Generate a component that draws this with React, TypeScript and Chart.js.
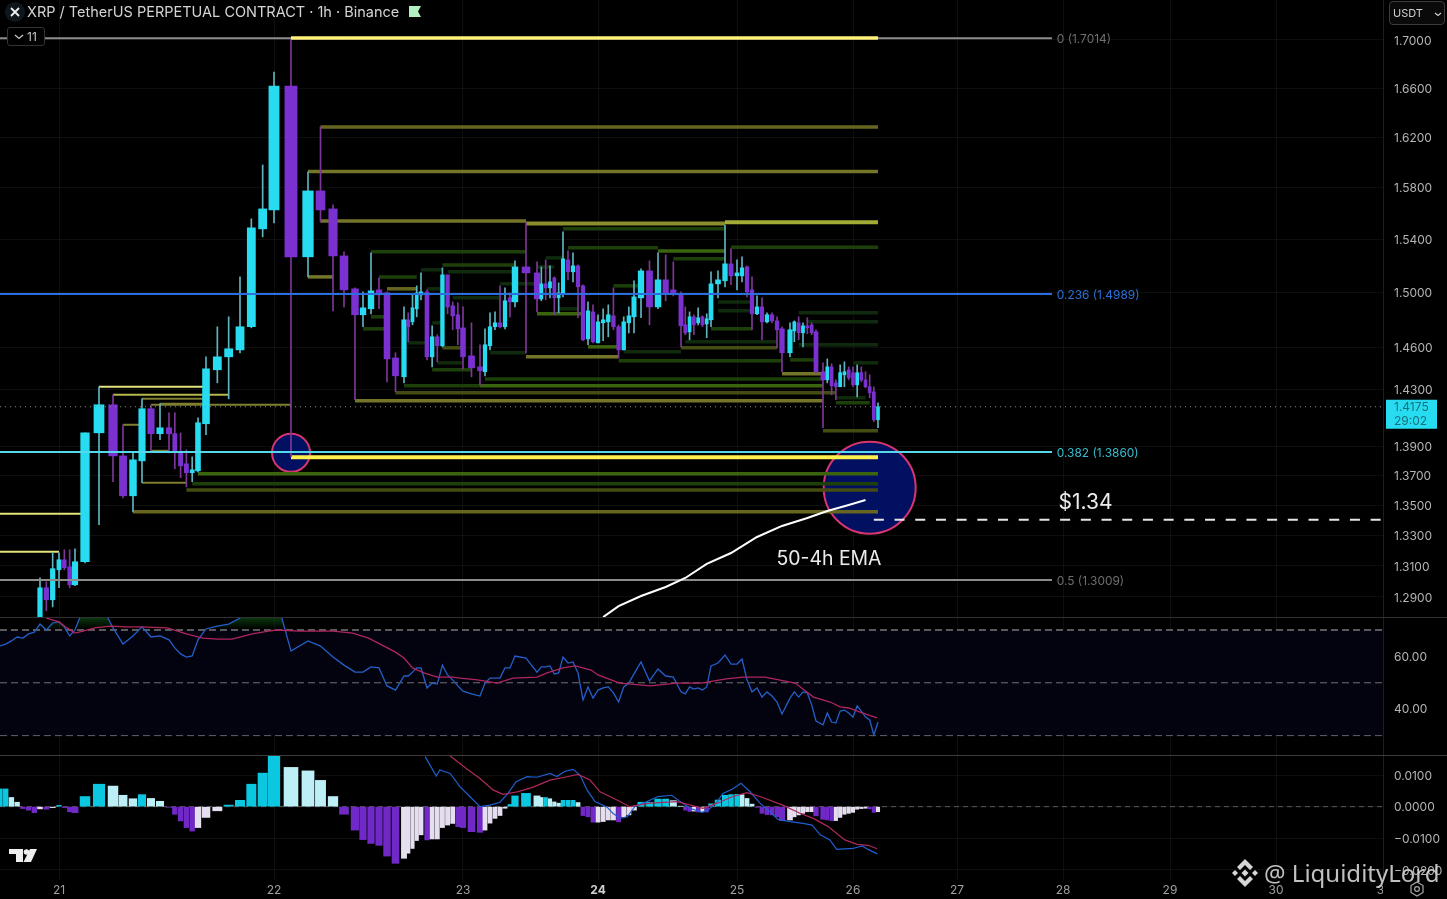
import React, { useEffect, useRef } from "react";
import { Chart, registerables, LinearScale, BarController } from "chart.js";

// ---------- hours are counted from 21 00:00 ----------
const dayTickHours = [0, 24, 48, 72, 96, 120, 144, 168, 192, 216, 240];
const dayTickLabels = ["21", "22", "23", "24", "25", "26", "27", "28", "29", "30", "31"];
const priceTicks = [1.7, 1.66, 1.62, 1.58, 1.54, 1.5, 1.46, 1.43, 1.39, 1.37, 1.35, 1.33, 1.31, 1.29];
const rsiTicks = [60, 40];
const macdTicks = [0.01, 0, -0.01, -0.02];

// the screenshot's time axis is unevenly stretched: hour -> share of the axis (out of 1383)
const xKnotHours = [-10, -3, 0, 3, 4, 5, 6, 8, 12, 17, 18, 24, 25, 26, 28, 30, 34, 36, 40, 41, 48, 50, 57, 58, 59, 65, 72, 79, 80, 82, 85, 92, 94, 96, 105, 106, 112, 113, 120, 126, 144, 168, 192, 216, 240];
const xKnotShares = [0, 40, 59, 75, 85, 99, 113, 133, 169, 198, 206, 274, 291, 308, 333, 355, 387, 404, 421, 427, 463, 480, 515, 526, 537, 563, 598, 634, 641, 658, 681, 711, 725, 737, 782, 790, 816, 823, 853, 878, 957, 1063, 1170, 1276, 1383];

// ---------- candles, first one at hour -3 ----------
const candleFirstHour = -3;
const opens = [1.2755,1.2959,1.2882,1.3075,1.3140,1.3094,1.2978,1.3127,1.3993,1.4189,1.3834,1.3563,1.3800,1.4161,1.3987,1.4028,1.3987,1.3862,1.3780,1.3719,1.3732,1.4056,1.4437,1.4530,1.4580,1.4748,1.5481,1.5627,1.6617,1.5268,1.5775,1.5635,1.5275,1.5028,1.4836,1.4880,1.5020,1.4998,1.4522,1.4387,1.4799,1.4784,1.4880,1.4983,1.5005,1.4530,1.4675,1.4610,1.5132,1.4902,1.4836,1.4740,1.4537,1.4458,1.4423,1.4610,1.4748,1.4777,1.4748,1.4961,1.4931,1.5192,1.5147,1.4953,1.5065,1.5035,1.5110,1.4961,1.4998,1.5245,1.5155,1.5200,1.5050,1.4660,1.4857,1.4631,1.4777,1.4784,1.4828,1.4748,1.4580,1.4777,1.4821,1.4961,1.5162,1.4894,1.5095,1.5020,1.4990,1.4762,1.4711,1.4821,1.4777,1.4821,1.4769,1.4799,1.5065,1.5088,1.5215,1.5125,1.5125,1.5192,1.5020,1.4843,1.4894,1.4784,1.4836,1.4791,1.4733,1.4559,1.4718,1.4777,1.4704,1.4755,1.4762,1.4711,1.4423,1.4365,1.4458,1.4344,1.4316,1.4401,1.4437,1.4416,1.4330,1.4416,1.4365,1.4316,1.4280,1.4084];
const highs = [1.3023,1.2997,1.3186,1.3186,1.3205,1.3205,1.3212,1.3993,1.4316,1.4259,1.4049,1.3862,1.4231,1.4189,1.4196,1.4133,1.4133,1.3993,1.3876,1.3827,1.4098,1.4530,1.4748,1.4821,1.5117,1.5558,1.5979,1.6731,1.7014,1.5924,1.6283,1.5666,1.5306,1.5035,1.5005,1.5298,1.5110,1.5005,1.4559,1.4894,1.4850,1.4983,1.5050,1.5147,1.5020,1.4755,1.4690,1.5185,1.5132,1.4931,1.4924,1.4894,1.4777,1.4617,1.4733,1.4850,1.4857,1.5050,1.5035,1.4998,1.5238,1.5527,1.5230,1.5192,1.5245,1.5200,1.5117,1.5073,1.5458,1.5313,1.5298,1.5207,1.5058,1.4931,1.4909,1.4836,1.4880,1.4909,1.5035,1.4762,1.4821,1.4894,1.5088,1.5177,1.5238,1.5298,1.5283,1.5230,1.5005,1.4894,1.4857,1.4836,1.4887,1.4828,1.4843,1.5155,1.5162,1.5511,1.5329,1.5245,1.5268,1.5200,1.5117,1.4975,1.4961,1.4850,1.4850,1.4821,1.4748,1.4777,1.4791,1.4821,1.4777,1.4814,1.4777,1.4726,1.4487,1.4515,1.4480,1.4365,1.4473,1.4494,1.4458,1.4458,1.4473,1.4458,1.4423,1.4401,1.4316,1.4203];
const lows = [1.2742,1.2812,1.2837,1.2959,1.3075,1.2959,1.2972,1.3120,1.3370,1.3658,1.3549,1.3456,1.3651,1.3869,1.3945,1.3855,1.3746,1.3685,1.3624,1.3658,1.3725,1.3980,1.4344,1.4231,1.4559,1.4740,1.5420,1.5527,1.3828,1.5117,1.5535,1.4865,1.4894,1.4224,1.4748,1.4843,1.4880,1.4351,1.4280,1.4344,1.4639,1.4762,1.4821,1.4946,1.4508,1.4458,1.4494,1.4602,1.4843,1.4726,1.4617,1.4444,1.4387,1.4330,1.4394,1.4580,1.4726,1.4740,1.4733,1.4821,1.4894,1.4559,1.4857,1.4939,1.4946,1.4961,1.4836,1.4850,1.4968,1.5095,1.5080,1.4814,1.4646,1.4617,1.4631,1.4631,1.4646,1.4675,1.4726,1.4522,1.4580,1.4704,1.4704,1.4814,1.4762,1.4880,1.4939,1.4975,1.4602,1.4690,1.4653,1.4690,1.4762,1.4748,1.4668,1.4748,1.4961,1.5043,1.5058,1.5020,1.5080,1.4968,1.4726,1.4836,1.4653,1.4777,1.4777,1.4595,1.4423,1.4530,1.4639,1.4653,1.4602,1.4697,1.4690,1.4416,1.4028,1.4344,1.4259,1.4224,1.4316,1.4316,1.4365,1.4316,1.4245,1.4351,1.4309,1.4238,1.4070,1.4028];
const closes = [1.2959,1.2882,1.3082,1.3140,1.3088,1.2978,1.3127,1.3993,1.4189,1.3834,1.3563,1.3807,1.4161,1.3987,1.4028,1.3987,1.3855,1.3766,1.3719,1.3739,1.4063,1.4444,1.4530,1.4588,1.4748,1.5489,1.5635,1.6617,1.5268,1.5775,1.5627,1.5275,1.5020,1.4836,1.4887,1.5013,1.4983,1.4515,1.4394,1.4799,1.4748,1.4887,1.4998,1.5005,1.4530,1.4675,1.4610,1.5132,1.4894,1.4828,1.4733,1.4530,1.4451,1.4430,1.4617,1.4748,1.4777,1.4748,1.4939,1.4931,1.5192,1.5147,1.4953,1.5065,1.5035,1.5080,1.4961,1.4998,1.5253,1.5155,1.5200,1.5043,1.4653,1.4865,1.4639,1.4784,1.4799,1.4836,1.4748,1.4580,1.4784,1.4828,1.4968,1.5162,1.4894,1.5095,1.4990,1.4998,1.4755,1.4704,1.4821,1.4762,1.4814,1.4762,1.4806,1.5065,1.5095,1.5215,1.5125,1.5147,1.5185,1.5005,1.4843,1.4894,1.4784,1.4836,1.4791,1.4726,1.4559,1.4726,1.4784,1.4704,1.4755,1.4740,1.4704,1.4423,1.4365,1.4458,1.4323,1.4316,1.4416,1.4423,1.4380,1.4330,1.4416,1.4365,1.4316,1.4273,1.4084,1.4175];

// ---------- Fibonacci levels ----------
const fibPrices = [1.7014, 1.4989, 1.386, 1.3009];
const fibLabels = ["0 (1.7014)", "0.236 (1.4989)", "0.382 (1.3860)", "0.5 (1.3009)"];
const fibFirstHour = -10;
const fibLastHour = 165.5;

// ---------- horizontal liquidity levels ----------
const levelPrices = [1.7017,1.6283,1.5928,1.5542,1.5523,1.5531,1.5481,1.5306,1.5336,1.5313,1.5340,1.5253,1.5117,1.5117,1.5028,1.5207,1.5155,1.5170,1.5028,1.4961,1.5065,1.5260,1.5192,1.5050,1.4843,1.4880,1.4821,1.4733,1.4777,1.4631,1.4595,1.4487,1.4437,1.4559,1.4530,1.4501,1.4602,1.4567,1.4372,1.4323,1.4323,1.4273,1.4217,1.4409,1.4007,1.4733,1.4595,1.4639,1.4865,1.4931,1.4850,1.4784,1.4617,1.4508,1.4487,1.4238,1.4203,1.4316,1.4259,1.4231,1.4196,1.4189,1.4049,1.3869,1.3651,1.3456,1.3603,1.3644,1.3712,1.3824,1.3443,1.3192];
const levelStarts = [25,27,26,27,58,94,65,32,66,82,95,84,26,33,34,44,45,40,41,46,54,61,59,75,59,64,32,31,42,37,44,43,42,52,58,76,70,77,51,36,50,35,30,105,113,92,85,86,93,93,108,110,108,106,120,116,116,5,6,9,11,10,7,10,9,8,15,16,17,25,-10,-10];
const levelEnds = [126,126,126,58,94,126,94,58,82,94,126,94,28,39,39,57,57,44,44,54,59,65,63,80,69,68,34,34,44,41,48,48,49,58,76,105,76,85,113,50,113,116,113,113,126,99,104,104,99,99,126,126,126,112,126,123,124,18,20,18,18,25,9,12,15,126,126,126,126,126,4,0];
const levelKinds = ["top","dim","olive","olive","lime2","lime","dark","dark","dark","green","dark","dark","olive","dark","dim","dark","deep","deep","deep","deep","deep","deep","deep","dark","green","deep","dark","dark","deep","deep","dim2","deep","dark","deep","olive","dark","green","deep","dark","dark","green","dim2","olive","olive","dim2","dark","dim2","deep","deep","deep","deep","deep","deep","dark","deep","deep","dark","pale","pale2","thin","thin","thin","thin","thin","thin","dim","dim2","dark","green","bright","pale","pale"];

// ---------- 50-4h EMA ----------
const emaHours = [73, 76, 80, 83, 86, 91, 95, 100, 105, 110, 114, 119, 123];
const emaValues = [1.2772, 1.2842, 1.2906, 1.2964, 1.3022, 1.3113, 1.3184, 1.3289, 1.3362, 1.3415, 1.3461, 1.3501, 1.3535];

const lastPrice = 1.4175;
const countdown = "29:02";
const targetPrice = 1.3403;
const targetHours = [125, 239.5];

// ---------- RSI, first value at hour -10 ----------
const oscFirstHour = -10;
const rsiValues = [63.85,64.6,65.8,67.3,66.9,68.5,69.2,72.3,70,72.7,73.1,71.2,67.7,70,80,81.5,70.8,64.6,67.7,71.2,67.3,67.7,66.2,63.1,60.8,59.6,60,66.2,70.4,71.5,72.3,74.6,80,81.5,85.4,61.9,65.8,63.8,59.6,56.5,53.8,53.8,55.8,55.4,48.5,46.9,52.3,52.3,53.8,55.4,55.4,47.7,49.6,49.2,56.5,52.7,50.8,48.5,46.5,45.4,44.6,49.6,51.5,51.5,51.5,55.4,55.4,60,59.2,53.8,55.8,55.8,56.2,53.1,53.5,59.6,57.3,57.7,53.5,43.1,48.1,43.8,46.9,47.7,48.1,45.8,42.3,48.1,49.6,53.1,57.7,50.4,55,52.3,51.9,46.2,45.4,48.1,47.3,47.7,46.9,48.1,56.2,57.3,60.4,56.9,56.9,58.8,50.8,46.2,47.7,44.2,46.2,44.6,42.3,37.7,43.8,46.2,44.2,46.2,45.8,41.2,35,33.5,38.1,34.6,34.2,38.8,39.2,38.1,36.5,40.8,38.8,36.5,35.4,29.6,34.6];
const rsiMaHours = [-2,0,1.5,3,3.8,4.7,5.8,7.4,9,11.8,15,17.6,19,20.3,22.1,23.5,24.2,25.5,28,29.8,31.7,35,36,38,40.5,43,46,47.5,49.7,53.4,56.6,59,61.3,65,67.5,70.6,72,76.2,81.1,84.4,89.7,94.2,97.2,101.6,107.2,111.4,114.7,117,119,122.2,125.8];
const rsiMaValues = [74.6,73.1,70.8,68.8,69.6,70.8,71.5,71.2,71.2,70.8,68.5,66.9,66.5,66.5,68.5,69.6,70,69.6,69.6,68.8,66.9,61.5,59.2,55.4,53.5,51.9,51.9,51.5,50.8,49.6,51.5,51.9,53.5,55.4,56.2,54.6,52.7,49.6,48.5,49.6,49.6,51.2,51.9,51.9,49.6,44.2,42.3,40.4,40,38.1,36.2];
const rsiBands = [70, 49.7, 29.4];

// ---------- MACD, first value at hour -10 ----------
const macdHist = [0.0056,0.0056,0.0029,0.0014,-0.0006,-0.0011,-0.0019,-0.0007,-0.0008,-0.0003,0.0004,-0.0003,-0.0016,-0.0019,0.0032,0.0071,0.0065,0.0036,0.0025,0.0038,0.0026,0.0017,-0.0002,-0.0024,-0.0045,-0.0066,-0.0077,-0.0066,-0.0034,-0.0013,0.0005,0.002,0.0071,0.0106,0.016,0.0124,0.0113,0.0083,0.0032,-0.0024,-0.0074,-0.0104,-0.0116,-0.0122,-0.0156,-0.0179,-0.0163,-0.0147,-0.0132,-0.0107,-0.0089,-0.0105,-0.0102,-0.0102,-0.0066,-0.0058,-0.0053,-0.0063,-0.0066,-0.0079,-0.0081,-0.0074,-0.0052,-0.0037,-0.0028,-0.0005,0.0007,0.0034,0.0042,0.0034,0.0029,0.0029,0.0025,0.0015,0.0011,0.002,0.002,0.002,0.0013,-0.0028,-0.0032,-0.0049,-0.0049,-0.0047,-0.0042,-0.0042,-0.0048,-0.0032,-0.0026,-0.0011,0.0014,0.0014,0.0024,0.0024,0.0019,0.0001,-0.0011,-0.0015,-0.0014,-0.0017,-0.0016,-0.0017,0.0009,0.0021,0.0036,0.0038,0.0039,0.0038,0.0026,0.0008,-0.0002,-0.0021,-0.0025,-0.0026,-0.0032,-0.0044,-0.0042,-0.0032,-0.0026,-0.0021,-0.0016,-0.0016,-0.0029,-0.004,-0.0042,-0.0044,-0.0044,-0.0034,-0.0024,-0.0021,-0.0018,-0.0008,-0.0006,-0.0005,-0.0007,-0.0018,-0.0016];
const macdHours = [40.7,42.8,43.5,45.5,47.4,48.8,50,52,54,55.6,57.1,58.1,59,62,63.6,65.3,67,68.4,69.8,71.4,73.8,74.9,76.3,77.7,79.1,80.7,82,83.8,84.9,87.1,89.9,91.3,92.9,93.7,95.2,96.8,98.6,100.6,102.6,104.2,106,109,111.1,112.6,114.6,116.2,120,122.2,123.6,125.8];
const macdValues = [0.0158,0.0097,0.0116,0.0105,0.0063,0.0032,0,0.0005,0.0014,0.0042,0.0079,0.0095,0.0093,0.0105,0.0095,0.0111,0.0118,0.01,0.0053,0.0016,-0.0002,-0.0021,-0.0037,-0.0032,0,0.0016,0.0032,0.0036,0.0016,-0.0005,-0.0018,-0.0011,0.0016,0.0042,0.0055,0.0074,0.0047,0.0011,-0.0016,-0.004,-0.0047,-0.0053,-0.0058,-0.0089,-0.0105,-0.0135,-0.0132,-0.0124,-0.0135,-0.0149];
const signalHours = [45.5,48.5,50,52.6,54.6,57.2,58.6,62,65.3,68,70.4,72.4,75.7,78.2,81,84.5,90.1,92.9,95.3,98,100.6,105.1,108.3,111.4,114.2,118.1,121,123.6,125.8];
const signalValues = [0.016,0.0118,0.0089,0.0053,0.0039,0.0047,0.0061,0.0084,0.0093,0.0102,0.0084,0.0047,0.0021,0,0.0011,0.0016,-0.0005,0.0011,0.0032,0.0044,0.0032,0.0005,-0.0021,-0.0037,-0.0063,-0.0105,-0.0119,-0.0122,-0.0133];

// ---------- styles ----------
const FONT = "Inter, 'Noto Sans', sans-serif";
const AXIS_END = 1383;
const CYAN = "#27dcf0";
const PURPLE = "#7b30d0";
const GRID = "rgba(255,255,255,0.055)";
const kindStyles: Record<string, [string, number]> = {
  top: ["#fff27a", 3], bright: ["#fff04d", 4], lime: ["#a3ab35", 4], lime2: ["#8a8f2c", 4],
  pale: ["#e3e37c", 2], pale2: ["#b5b84a", 2], thin: ["#7f7f30", 2], olive: ["#75752a", 3.5],
  dim: ["#666620", 3.5], dim2: ["#444c12", 3.5], green: ["#3a640e", 3.5], dark: ["#1d400b", 3.5], deep: ["#0f2a0c", 3.5],
};

class WarpedScale extends LinearScale {
  static id = "warped";
  static defaults = {};
  getPixelForValue(value: number) {
    const h = xKnotHours, s = xKnotShares;
    let i = 0;
    while (i < h.length - 2 && value > h[i + 1]) i++;
    const share = s[i] + ((value - h[i]) / (h[i + 1] - h[i])) * (s[i + 1] - s[i]);
    return (this as any).left + (share / AXIS_END) * (this as any).width;
  }
}

// A bar whose width follows the local spacing of the uneven time axis, centred on its hour
class CandleController extends BarController {
  static id = "candle";
  _calculateBarIndexPixels(index: number, ruler: any) {
    const px = ruler.pixels;
    const center = px[index];
    const opts = (this as any).options;
    const prev = index > 0 ? center - px[index - 1] : px[index + 1] - center;
    const next = index < px.length - 1 ? px[index + 1] - center : prev;
    const size = typeof opts.barThickness === "number" ? opts.barThickness : ((prev + next) / 2) * opts.barPercentage;
    return { base: center - size / 2, head: center + size / 2, center, size };
  }
}

Chart.register(...registerables, WarpedScale as any, CandleController as any);

const clearPadding = (axis: any) => {
  axis.paddingTop = 0;
  axis.paddingBottom = 0;
  axis.paddingLeft = 0;
  axis.paddingRight = 0;
};

const xAxis = (showLabels: boolean) => ({
  type: "warped",
  position: "bottom",
  min: -10,
  max: 240,
  offset: false,
  bounds: "data",
  afterBuildTicks: (axis: any) => { axis.ticks = dayTickHours.map((value) => ({ value })); },
  afterFit: (axis: any) => { axis.height = showLabels ? 19 : 0; clearPadding(axis); },
  border: { display: false },
  grid: { color: GRID, offset: false, drawTicks: false },
  ticks: {
    display: showLabels,
    autoSkip: false,
    maxRotation: 0,
    padding: 3,
    color: (c: any) => (c.tick && c.tick.value === 72 ? "#d0d0d0" : "#a0a0a0"),
    font: (c: any) => ({ family: FONT, size: 12, weight: c.tick && c.tick.value === 72 ? "bold" : "normal" }),
    callback: (v: any) => dayTickLabels[dayTickHours.indexOf(Number(v))],
  },
});

const yAxis = (extra: any, tickValues: number[], format: (v: number) => string) => ({
  position: "right",
  bounds: "data",
  beginAtZero: false,
  afterBuildTicks: (axis: any) => { axis.ticks = tickValues.map((value) => ({ value })); },
  afterFit: (axis: any) => { axis.width = 1447 - AXIS_END; clearPadding(axis); },
  border: { display: true, color: "#1e1e1e" },
  grid: { color: GRID, drawTicks: false },
  ticks: { autoSkip: false, padding: 11, labelOffset: 1, color: "#b4b4b4", font: { family: FONT, size: 12 }, callback: (v: any) => format(Number(v)) },
  ...extra,
});

const baseOptions = (scales: any) => ({
  responsive: false,
  animation: false as const,
  events: [],
  layout: { padding: 0, autoPadding: false },
  plugins: { legend: { display: false }, tooltip: { enabled: false } },
  scales,
});

const flat = (color: string, width: number, dash?: number[]) => ({
  type: "line",
  borderColor: color,
  borderWidth: width,
  borderDash: dash || [],
  pointRadius: 0,
  borderCapStyle: "butt",
  tension: 0,
});

const at = (hourList: number[], values: number[]) => hourList.map((x, i) => ({ x, y: values[i] }));

function drawPriceNotes(chart: any) {
  const { ctx, scales } = chart;
  const x = (h: number) => scales.x.getPixelForValue(h);
  const y = (p: number) => scales.y.getPixelForValue(p);
  ctx.save();
  ctx.textBaseline = "middle";
  ctx.textAlign = "left";
  ctx.font = `11.9px ${FONT}`;
  const fibColors = ["#6e6e6e", "#2b6fd8", "#38bcd0", "#6e6e6e"];
  fibLabels.forEach((text, i) => {
    ctx.fillStyle = fibColors[i];
    ctx.fillText(text, x(fibLastHour + 1.1), y(fibPrices[i]) + 1);
  });
  ctx.fillStyle = "#ececec";
  ctx.font = `21px ${FONT}`;
  ctx.fillText("$1.34", x(167), y(1.3516));
  ctx.font = `19.4px ${FONT}`;
  ctx.fillText("50-4h EMA", x(103.9), y(1.3147));
  const top = y(lastPrice) - 7;
  ctx.fillStyle = CYAN;
  ctx.fillRect(1386, top, 51, 29);
  ctx.fillStyle = "#17707e";
  ctx.font = `12px ${FONT}`;
  ctx.fillText(lastPrice.toFixed(4), 1394, top + 8);
  ctx.fillText(countdown, 1394, top + 22);
  ctx.restore();
}

function hideAxisOverflow(chart: any) {
  const { ctx, chartArea } = chart;
  ctx.save();
  ctx.fillStyle = "#000";
  ctx.fillRect(AXIS_END, chartArea.bottom + 1, 1447 - AXIS_END, 19);
  ctx.restore();
}

export default function App() {
  const priceRef = useRef<HTMLCanvasElement>(null);
  const rsiRef = useRef<HTMLCanvasElement>(null);
  const macdRef = useRef<HTMLCanvasElement>(null);

  useEffect(() => {
    const candleHours = opens.map((_, i) => candleFirstHour + i);
    const up = opens.map((o, i) => closes[i] >= o);

    const price = new Chart(priceRef.current as any, {
      type: "line",
      data: {
        datasets: [
          {
            type: "bubble",
            order: 100,
            data: [
              { x: 124, y: 1.3617, r: 46 },
              { x: 25, y: 1.3855, r: 19 },
            ],
            backgroundColor: "#021062",
            borderColor: "#d8356f",
            borderWidth: 2,
          },
          ...levelPrices.map((p, i) => ({
            ...flat(kindStyles[levelKinds[i]][0], kindStyles[levelKinds[i]][1]),
            order: 80,
            data: [{ x: levelStarts[i], y: p }, { x: levelEnds[i], y: p }],
          })),
          {
            type: "candle",
            order: 50,
            barThickness: 1,
            borderWidth: 0,
            backgroundColor: up.map((u) => (u ? "#5fb4c0" : "#7d3796")),
            data: candleHours.map((x, i) => ({ x, y: [lows[i], highs[i]] })),
          },
          {
            type: "candle",
            order: 40,
            barThickness: "flex",
            barPercentage: 0.72,
            borderWidth: 0,
            backgroundColor: up.map((u) => (u ? CYAN : PURPLE)),
            data: candleHours.map((x, i) => ({ x, y: [opens[i], closes[i]] })),
          },
          ...fibPrices.map((p, i) => ({
            ...flat(["#8c8c8c", "#2a6ee0", "#55d8ea", "#8c8c8c"][i], 2),
            order: 30,
            data: [{ x: fibFirstHour, y: p }, { x: fibLastHour, y: p }],
          })),
          {
            ...flat("#fff27a", 3),
            order: 28,
            data: [{ x: 25, y: levelPrices[0] }, { x: 126, y: levelPrices[0] }],
          },
          {
            ...flat("#8a8a8a", 1, [1, 4]),
            order: 25,
            data: [{ x: -10, y: lastPrice }, { x: 240, y: lastPrice }],
          },
          { ...flat("#e6e6e6", 2, [10, 10.7]), order: 20, data: at(targetHours, [targetPrice, targetPrice]) },
          { ...flat("#ffffff", 2), order: 18, data: at(emaHours, emaValues) },
        ] as any,
      },
      options: baseOptions({
        x: xAxis(false),
        y: yAxis({ type: "logarithmic", min: 1.27726, max: 1.734 }, priceTicks, (v) => v.toFixed(4)),
      }) as any,
      plugins: [{ id: "priceNotes", afterDraw: drawPriceNotes }],
    });

    const oscHours = rsiValues.map((_, i) => oscFirstHour + i);
    const rsiCtx = (rsiRef.current as any).getContext("2d");
    const above = rsiCtx.createLinearGradient(0, 0, 0, 12);
    above.addColorStop(0, "rgba(12,70,16,0.85)");
    above.addColorStop(1, "rgba(12,70,16,0)");

    const rsi = new Chart(rsiRef.current as any, {
      type: "line",
      data: {
        datasets: [
          {
            ...flat("#b4b4b4", 1, [7, 4]),
            order: 30,
            data: at([-10, 240], [rsiBands[0], rsiBands[0]]),
            fill: "+1",
            backgroundColor: "#03030f",
          },
          { ...flat("#b4b4b4", 1, [7, 4]), order: 30, data: at([-10, 240], [rsiBands[2], rsiBands[2]]) },
          { ...flat("#707070", 1, [7, 4]), order: 29, data: at([-10, 240], [rsiBands[1], rsiBands[1]]) },
          {
            ...flat("#2460c8", 1.3),
            order: 10,
            data: at(oscHours, rsiValues),
            fill: { target: { value: 70 }, above, below: "transparent" },
          },
          { ...flat("#b0265f", 1.3), order: 5, data: at(rsiMaHours, rsiMaValues) },
        ] as any,
      },
      options: baseOptions({
        x: xAxis(false),
        y: yAxis({ type: "linear", min: 21.92, max: 75 }, rsiTicks, (v) => v.toFixed(2)),
      }) as any,
    });

    const histColors = macdHist.map((v, i) => {
      const prev = i > 0 ? macdHist[i - 1] : v;
      if (v >= 0) return v >= prev ? "#0bc8e0" : "#bdf0f6";
      return v < prev ? "#7029c6" : "#e4deee";
    });

    const macd = new Chart(macdRef.current as any, {
      type: "line",
      data: {
        datasets: [
          {
            type: "candle",
            order: 40,
            barThickness: "flex",
            barPercentage: 0.82,
            borderWidth: 0,
            backgroundColor: histColors,
            data: oscHours.map((x, i) => ({ x, y: macdHist[i] })),
          },
          { ...flat("#5a5a5a", 1, [5, 4]), order: 50, data: at([-10, 240], [0, 0]) },
          { ...flat("#1f5fd0", 1.2), order: 10, data: at(macdHours, macdValues) },
          { ...flat("#ad2a5e", 1.2), order: 5, data: at(signalHours, signalValues) },
        ] as any,
      },
      options: baseOptions({
        x: xAxis(true),
        y: yAxis({ type: "linear", min: -0.02316, max: 0.01632 }, macdTicks, (v) =>
          (v < 0 ? "\u2212" : "") + Math.abs(v).toFixed(4)
        ),
      }) as any,
      plugins: [{ id: "hideAxisOverflow", afterDraw: hideAxisOverflow }],
    });

    return () => {
      price.destroy();
      rsi.destroy();
      macd.destroy();
    };
  }, []);

  const abs = (left: number, top: number, extra: any = {}) => ({ position: "absolute" as const, left, top, ...extra });

  return (
    <div style={{ position: "fixed", left: 0, top: 0, width: 1447, height: 899, background: "#000", overflow: "hidden", fontFamily: FONT }}>
      <canvas ref={priceRef} width={1447} height={617} style={abs(0, 0, { display: "block" })} />
      <canvas ref={rsiRef} width={1447} height={138} style={abs(0, 617, { display: "block" })} />
      <canvas ref={macdRef} width={1447} height={144} style={abs(0, 755, { display: "block" })} />
      <div style={abs(0, 617, { width: 1447, height: 1, background: "#303030" })} />
      <div style={abs(0, 755, { width: 1447, height: 1, background: "#3c3c3c" })} />

      <svg width={24} height={24} style={abs(3, 0)}>
        <circle cx={12} cy={12} r={10} fill="#10171c" />
        <path d="M8 8 L16 16 M16 8 L8 16" stroke="#eee" strokeWidth={1.8} />
      </svg>
      <div style={abs(27, 3, { color: "#d4d4d4", fontSize: 14.5, lineHeight: "18px", whiteSpace: "nowrap" })}>
        XRP / TetherUS PERPETUAL CONTRACT · 1h · Binance
      </div>
      <svg width={13} height={12} style={abs(409, 6)}>
        <polygon points="0,0 12,0 9,5.5 12,11 0,11" fill="#b4efc2" />
      </svg>
      <div style={abs(7, 27, { width: 36, height: 17, border: "1px solid #333", borderRadius: 3, background: "#000", color: "#c8c8c8", fontSize: 12, lineHeight: "17px" })}>
        <svg width={10} height={6} style={abs(6, 6)}>
          <path d="M1 1 L5 4.5 L9 1" stroke="#c8c8c8" strokeWidth={1.2} fill="none" />
        </svg>
        <span style={abs(19, 0)}>11</span>
      </div>

      <div style={abs(1389, 1, { width: 54, height: 22, border: "1px solid #3c3c3c", borderRadius: 4, background: "#0a0a0a", color: "#cfcfcf", fontSize: 11, lineHeight: "22px" })}>
        <span style={abs(3, 0)}>USDT</span>
        <svg width={8} height={5} style={abs(44, 10)}>
          <path d="M1 1 L4 3.5 L7 1" stroke="#cfcfcf" strokeWidth={1.2} fill="none" />
        </svg>
      </div>

      <svg width={28} height={13} style={abs(9, 849)}>
        <rect x={0} y={0} width={14} height={5} fill="#eee" />
        <rect x={7} y={0} width={7} height={13} fill="#eee" />
        <circle cx={17.5} cy={3} r={2.8} fill="#eee" />
        <polygon points="21,0 28,0 22,13 14.5,13" fill="#eee" />
      </svg>

      <svg width={28} height={28} viewBox="-14 -14 28 28" style={abs(1231, 859)}>
        <g fill="#d6d6d6">
          <path d="M0,-14 L8,-6 L5,-3 L0,-8 L-5,-3 L-8,-6 Z" />
          <path d="M0,14 L8,6 L5,3 L0,8 L-5,3 L-8,6 Z" />
          <path d="M0,-3.5 L3.5,0 L0,3.5 L-3.5,0 Z" />
          <path d="M-10,-3 L-7,0 L-10,3 L-13,0 Z" />
          <path d="M10,-3 L13,0 L10,3 L7,0 Z" />
        </g>
      </svg>
      <div style={abs(1264, 857, { color: "rgba(214,214,214,0.9)", fontFamily: "'Noto Sans', sans-serif", fontSize: 24, lineHeight: "32px", whiteSpace: "nowrap" })}>
        @ LiquidityLord
      </div>

      <svg width={18} height={18} style={abs(1408, 880)}>
        <polygon points="9,2 15,5.5 15,12.5 9,16 3,12.5 3,5.5" fill="none" stroke="#a8a8a8" strokeWidth={1.2} />
        <circle cx={9} cy={9} r={2.4} fill="none" stroke="#a8a8a8" strokeWidth={1.2} />
      </svg>
    </div>
  );
}
